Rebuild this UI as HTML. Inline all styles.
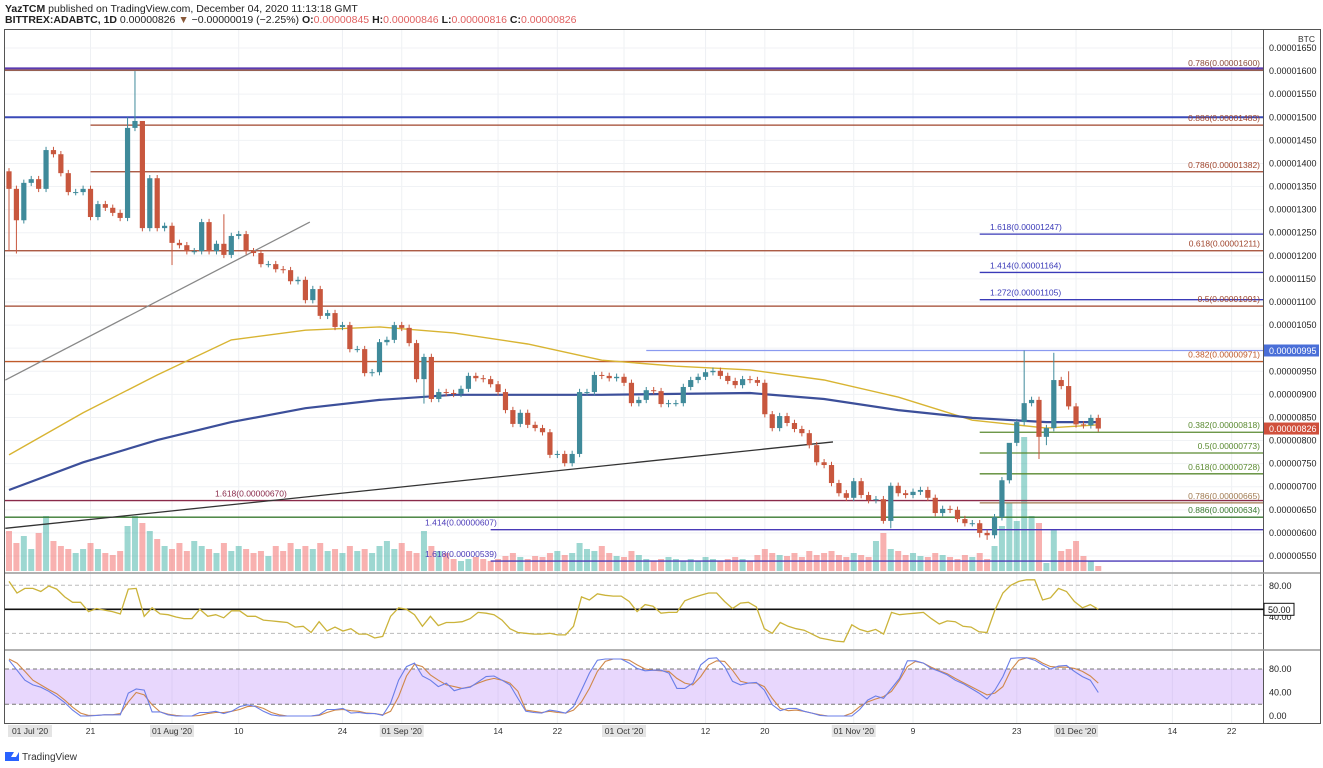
<!DOCTYPE html>
<html><head><meta charset="utf-8"><style>
html,body{margin:0;padding:0;background:#fff;}
body{width:1323px;height:768px;overflow:hidden;font-family:"Liberation Sans",sans-serif;}
svg{display:block}
</style></head><body>
<svg id="chart" width="1323" height="768" xmlns="http://www.w3.org/2000/svg" font-family="Liberation Sans, sans-serif">
<text x="5" y="12" font-size="10.5" fill="#222"><tspan font-weight="bold">YazTCM</tspan> published on TradingView.com, December 04, 2020 11:13:18 GMT</text>
<text x="5" y="23" font-size="10.5" fill="#222"><tspan font-weight="bold">BITTREX:ADABTC, 1D</tspan> 0.00000826 <tspan fill="#8a5a3a">▼</tspan> −0.00000019 (−2.25%) <tspan font-weight="bold">O:</tspan><tspan fill="#e06060">0.00000845</tspan> <tspan font-weight="bold">H:</tspan><tspan fill="#e06060">0.00000846</tspan> <tspan font-weight="bold">L:</tspan><tspan fill="#e06060">0.00000816</tspan> <tspan font-weight="bold">C:</tspan><tspan fill="#e06060">0.00000826</tspan></text>
<rect x="4.5" y="29.5" width="1316" height="694" fill="none" stroke="#555" stroke-width="1"/>
<g id="g"></g>
<text x="22" y="760" font-size="10" fill="#333">TradingView</text>
<path d="M5 752 h9 l-3 5 h5 l3 -5 v9 h-14z" fill="#2962ff"/>
</svg>
<script>
// ---------- data ----------
const closes=[1345,1277,1358,1366,1345,1429,1420,1379,1338,1338,1345,1284,1312,1304,1293,1282,1477,1492,1260,1368,1260,1265,1228,1223,1210,1210,1273,1210,1226,1202,1243,1247,1210,1206,1182,1182,1171,1169,1145,1148,1104,1128,1070,1076,1046,1050,998,998,946,948,1013,1018,1050,1044,1011,933,981,890,905,903,901,912,940,935,933,922,905,866,836,860,834,827,818,769,771,751,771,905,905,942,940,935,938,925,881,888,909,907,879,881,881,916,931,938,948,951,940,929,920,933,931,925,857,827,853,838,825,816,790,753,747,708,686,676,712,682,671,673,626,702,686,682,689,693,676,643,652,650,630,621,621,600,595,634,714,795,840,881,888,808,827,931,918,874,835,833,849,826];
const firstOpen=1383;
const highExtra={16:1500,17:1600,18:1490,29:1290,137:995,141:990,143:950,135:760};
const lowExtra={0:1210,1:1205,22:1180,56:880,119:610,118:620,139:760,140:790,131:590,132:585};
const volume=[40,28,35,22,38,55,30,25,22,18,22,28,22,18,16,20,45,55,48,40,32,25,22,28,20,30,25,22,18,28,20,25,22,18,20,15,25,20,28,22,25,22,28,20,22,18,25,20,22,18,25,30,22,28,20,18,40,25,20,18,12,10,12,14,12,10,12,15,18,14,12,15,14,18,20,16,18,28,22,20,25,18,15,14,20,16,12,10,12,14,12,10,12,10,14,12,10,12,14,12,10,16,22,18,16,15,18,14,20,16,18,20,16,14,18,16,14,30,38,22,20,16,18,15,14,18,16,14,12,16,14,18,12,25,45,68,50,134,55,48,8,42,20,22,30,15,10,5];
const maYellow=[769,860,942,1018,1039,1046,1033,1009,974,961,953,931,894,844,827,834];
const maBlue=[693,753,801,840,870,888,899,899,899,901,903,890,866,849,840,840];
const maStep=10;
const rsi=[86,71,77,77,73,80,76,66,59,59,47,51,49,47,44,76,77,41,52,44,43,40,38,38,50,41,43,39,48,48,41,41,36,35,34,33,27,28,20,34,22,27,22,25,18,18,13,15,41,52,50,43,28,41,29,33,33,34,38,46,45,43,36,25,20,
19,18,18,19,17,17,28,66,62,70,68,67,67,60,47,56,54,45,46,46,61,65,68,71,71,60,51,58,59,53,25,19,33,28,25,23,18,13,11,9,8,30,24,21,24,18,46,43,44,45,46,38,31,35,34,28,27,21,20,49,71,81,86,88,88,62,65,77,73,60,52,56,50];
const stochK=[95,78,61,53,49,42,33,23,10,0,0,1,2,2,2,39,46,44,7,7,2,0,0,0,6,6,8,4,8,16,19,16,8,2,0,0,0,0,0,2,11,11,13,5,6,4,4,1,22,61,84,90,68,61,50,56,43,47,49,58,67,68,61,53,30,
8,6,5,10,8,5,16,44,73,95,97,97,97,90,81,77,78,78,73,47,47,56,87,98,99,84,59,53,56,57,44,19,9,13,13,8,5,1,0,0,0,0,11,27,34,30,47,64,94,94,90,81,76,70,61,55,47,39,29,44,67,98,99,99,95,87,80,85,86,76,67,61,40];
const stochD=[97,90,76,61,53,45,38,27,15,5,1,1,2,2,4,24,40,36,19,7,3,1,0,0,1,4,6,6,8,11,16,17,13,6,2,0,0,0,0,1,6,10,11,9,8,5,4,2,8,33,68,88,84,70,61,53,50,47,50,56,61,64,61,56,42,
10,8,6,8,6,5,10,24,47,76,93,97,97,95,87,80,78,77,76,64,56,53,67,87,94,93,78,59,56,56,50,30,13,9,10,8,5,2,0,0,0,5,16,24,29,33,42,61,84,93,90,83,77,72,64,57,50,43,36,39,50,78,95,99,98,90,84,83,83,81,76,68,56];
const priceTicks=[1650,1600,1550,1500,1450,1400,1350,1300,1250,1200,1150,1100,1050,1000,950,900,850,800,750,700,650,600,550];
const dateTickIdx=[-9,11,22,31,45,53,66,74,83,94,102,114,122,136,144,157,165];
const dateTickLabels=["01 Jul '20","21","01 Aug '20","10","24","01 Sep '20","14","22","01 Oct '20","12","20","01 Nov '20","9","23","01 Dec '20","14","22"];
const levelPrices=[1606,1602,1500,1483,1382,1247,1211,1164,1105,1091,995,971,818,773,728,670,665,634,607,539];
const levelStart=[-2,-2,-2,11,11,131,-2,131,131,-2,86,-2,131,131,131,-2,131,-2,65,65];
const levelColors=["#5b3ab0","#8a4a3a","#3a4ab8","#a0452c","#a0452c","#3a3ab8","#a0452c","#3a3ab8","#3a3ab8","#a0452c","#8a9af0","#c05a2a","#5a8a30","#5a8a30","#5a8a30","#8a2a4a","#a07a50","#3a7a30","#4a3ab8","#4a3ab8"];
const levelLabels=["","0.786(0.00001600)","","0.886(0.00001483)","0.786(0.00001382)","1.618(0.00001247)","0.618(0.00001211)","1.414(0.00001164)","1.272(0.00001105)","0.5(0.00001091)","","0.382(0.00000971)","0.382(0.00000818)","0.5(0.00000773)","0.618(0.00000728)","1.618(0.00000670)","0.786(0.00000665)","0.886(0.00000634)","1.414(0.00000607)","1.618(0.00000539)"];
const levelLabelLeft=[0,0,0,0,0,1,0,1,1,0,0,0,0,0,0,2,0,0,1,1];
const trendA=[[-0.5,931],[40.6,1273]];
const trendB=[[-0.5,610],[111.2,797]];

// ---------- axes ----------
const L=5,R=1263;
const X=i=>9+i*7.41;
const Y=p=>48+(1650-p)*0.46182;
const VB=571,VS=1;
const YR=v=>609.3-(v-50)*0.775;
const YS=v=>716-v*0.5875;
const N=closes.length;
const XI=(j,len)=>X(j*(N-1)/(len-1));
const ns="http://www.w3.org/2000/svg";
const g=document.getElementById('g');
function mk(t,a,txt){const e=document.createElementNS(ns,t);for(const k in a)e.setAttribute(k,a[k]);if(txt!=null)e.textContent=txt;g.appendChild(e);return e;}

dateTickIdx.forEach((d,i)=>{if(d<0)return;const e=mk('line',{x1:X(d),x2:X(d),y1:30,y2:723,stroke:'#eef0f3','stroke-width':1});

});
priceTicks.forEach(p=>{const e=mk('line',{x1:L,x2:R,y1:Y(p),y2:Y(p),stroke:'#f0f2f5','stroke-width':1});

});

closes.forEach((c,i)=>{const o=i?closes[i-1]:firstOpen;const h=volume[i]*VS;
const e=mk('rect',{x:X(i)-3,y:VB-h,width:6,height:h,fill:c>=o?'rgba(38,166,154,0.45)':'rgba(239,83,80,0.45)'});

});

levelPrices.forEach((p,i)=>{const x1=Math.max(L,X(levelStart[i]));
const e=mk('line',{x1:x1,x2:R,y1:Y(p),y2:Y(p),stroke:levelColors[i],'stroke-width':(i==2||i==0)?2:1.3});


if(levelLabels[i]){let tx,anchor='end';
 if(levelLabelLeft[i]==1){anchor='start';tx=levelStart[i]>100?990:425;}
 else if(levelLabelLeft[i]==2){tx=215;anchor='start';}
 else tx=1260;
 const t=mk('text',{x:tx,y:Y(p)-4,'font-size':8.5,fill:levelColors[i],'text-anchor':anchor},levelLabels[i]);
 
 }
});

[[trendA,'#888'],[trendB,'#333']].forEach(([t,col])=>{const e=mk('line',{x1:X(t[0][0]),y1:Y(t[0][1]),x2:X(t[1][0]),y2:Y(t[1][1]),stroke:col,'stroke-width':1.3});

});

function maPath(arr,col,name){const pts=arr.map((v,j)=>X(Math.min(j*maStep,N-1)).toFixed(1)+','+Y(v).toFixed(1)).join(' ');
const e=mk('polyline',{points:pts,fill:'none',stroke:col,'stroke-width':name=='ma-200'?2.2:1.4});

}
maPath(maYellow,'#d8b432','ma-100');
maPath(maBlue,'#3c4f9a','ma-200');

closes.forEach((c,i)=>{const o=i?closes[i-1]:firstOpen;const up=c>=o;const col=up?'#3f8a9a':'#c8573e';
const top=Math.max(o,c),bot=Math.min(o,c);
const hi=highExtra[i]!==undefined?highExtra[i]:top+7;const lo=lowExtra[i]!==undefined?lowExtra[i]:bot-7;
const w=mk('line',{x1:X(i),x2:X(i),y1:Y(hi),y2:Y(lo),stroke:col,'stroke-width':1});


const b=mk('rect',{x:X(i)-2.6,y:Y(top),width:5.2,height:Math.max(1,Y(bot)-Y(top)),fill:col});

});

mk('line',{x1:R+0.5,x2:R+0.5,y1:30,y2:723,stroke:'#555','stroke-width':1});
const bt=mk('text',{x:1298,y:42,'font-size':8.5,fill:'#333'},'BTC');


priceTicks.forEach(p=>{const t=mk('text',{x:1269,y:Y(p)+3,'font-size':9,fill:'#222'},(p/1e8).toFixed(8));

});
[[995,'#4a6fd8'],[826,'#d0503c']].forEach(([p,col])=>{const r=mk('rect',{x:1264,y:Y(p)-6,width:55,height:12,fill:col});


const t=mk('text',{x:1269,y:Y(p)+3.5,'font-size':9,fill:'#fff'},(p/1e8).toFixed(8));

});

[573,650].forEach(y=>{const e=mk('line',{x1:L,x2:1320,y1:y,y2:y,stroke:'#999','stroke-width':1.5});

});

[81,19].forEach(v=>mk('line',{x1:L,x2:R,y1:YR(v),y2:YR(v),stroke:'#bbb','stroke-dasharray':'4,3'}));
mk('line',{x1:L,x2:1266,y1:YR(50),y2:YR(50),stroke:'#111','stroke-width':1.6});
const rl=mk('polyline',{points:rsi.map((v,j)=>XI(j,rsi.length).toFixed(1)+','+YR(v).toFixed(1)).join(' '),fill:'none',stroke:'#cbb33a','stroke-width':1.3});


[[80,'80.00'],[40,'40.00']].forEach(([v,s])=>mk('text',{x:1269,y:YR(v)+3,'font-size':9,fill:'#222'},s));
const rb=mk('rect',{x:1264,y:YR(50)-6,width:30,height:12,fill:'#fff',stroke:'#111'});


mk('text',{x:1268,y:YR(50)+3.5,'font-size':9,fill:'#111'},'50.00');

const band=mk('rect',{x:L,y:YS(80),width:R-L,height:YS(20)-YS(80),fill:'rgba(190,140,250,0.35)'});


[80,20].forEach(v=>mk('line',{x1:L,x2:R,y1:YS(v),y2:YS(v),stroke:'#777','stroke-dasharray':'4,3'}));
const dl=mk('polyline',{points:stochD.map((v,j)=>XI(j,stochD.length).toFixed(1)+','+YS(v).toFixed(1)).join(' '),fill:'none',stroke:'#d0884a','stroke-width':1.1});


const kl=mk('polyline',{points:stochK.map((v,j)=>XI(j,stochK.length).toFixed(1)+','+YS(v).toFixed(1)).join(' '),fill:'none',stroke:'#6a7ee8','stroke-width':1.1});


[[80,'80.00'],[40,'40.00'],[0,'0.00']].forEach(([v,s])=>mk('text',{x:1269,y:YS(v)+3,'font-size':9,fill:'#222'},s));

mk('line',{x1:L,x2:1320,y1:723.5,y2:723.5,stroke:'#555'});
dateTickIdx.forEach((d,i)=>{const s=dateTickLabels[i];const big=s.length>3;let x=Math.max(30,X(d));
if(big){const r=mk('rect',{x:x-22,y:725,width:44,height:12,fill:'#e4e4e4'});

}
const t=mk('text',{x:x,y:734,'font-size':8.5,fill:'#333','text-anchor':'middle'},s);

});
</script>
</body></html>
